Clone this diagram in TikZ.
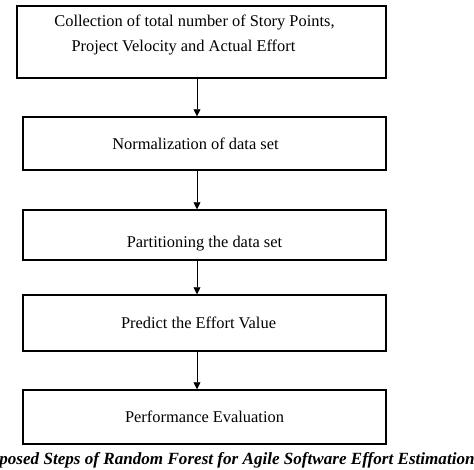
\documentclass[tikz,border=0pt]{standalone}
\usepackage{fontspec}
\setmainfont{Liberation Serif}
\usepackage{tikz}
\usetikzlibrary{arrows.meta,positioning}
\tikzset{
  >={Triangle[length=7pt,width=7pt]},
  fstep/.style={draw=black, line width=1.5pt, minimum width=363pt,
                inner sep=0pt, font=\fontsize{16.4}{25}\selectfont, align=center},
  farrow/.style={->, line width=0.8pt},
  fcap/.style={font=\fontsize{17.1}{19}\selectfont\bfseries\itshape, inner sep=0pt},
}
\begin{document}
\begin{tikzpicture}[x=1pt,y=-1pt]

  \useasboundingbox (0,0) rectangle (474,469);

  % steps
  \node[fstep, minimum width=369pt, minimum height=72pt, text depth=18pt] (coll) at (201.5,42)
        {Collection of total number of Story Points,\hspace*{14pt}\\
         Project Velocity and Actual Effort\hspace*{36pt}};
  \node[fstep, minimum height=53pt] (norm) at (204.5,143.5) {Normalization of data set\hspace*{18pt}};
  \node[fstep, minimum height=50pt, text height=28pt] (part) at (204.5,235) {Partitioning the data set};
  \node[fstep, minimum height=56pt] (pred) at (204.5,323) {Predict the Effort Value\hspace*{12pt}};
  \node[fstep, minimum height=54pt] (perf) at (204.5,417) {Performance Evaluation};

  % arrows
  \coordinate (ax) at (197,0);
  \draw[farrow] (coll.south -| ax) -- (norm.north -| ax);
  \draw[farrow] (norm.south -| ax) -- (part.north -| ax);
  \draw[farrow] (part.south -| ax) -- (pred.north -| ax);
  \draw[farrow] (pred.south -| ax) -- (perf.north -| ax);

  % caption
  \node[fcap] (cap) at (237,460)
        {posed Steps of Random Forest for Agile Software Effort Estimation};

\end{tikzpicture}
\end{document}
